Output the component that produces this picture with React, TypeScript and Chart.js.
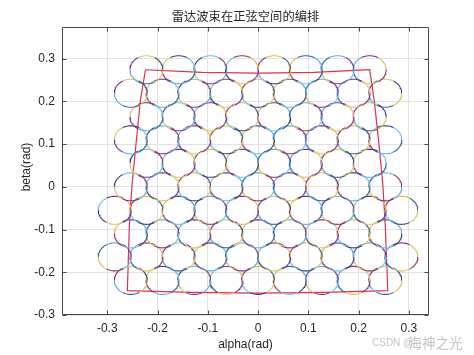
import React, { useEffect, useRef } from "react";
import { Chart, registerables } from "chart.js";

Chart.register(...registerables);

// ---- data ----
const titleText = "雷达波束在正弦空间的编排";
const xTitle = "alpha(rad)";
const yTitle = "beta(rad)";
const watermarkLatin = "CSDN @";
const watermarkCJK = "海神之光";

const xTicks = [-0.3, -0.2, -0.1, 0, 0.1, 0.2, 0.3];
const xTickLabels = ["-0.3", "-0.2", "-0.1", "0", "0.1", "0.2", "0.3"];
const yTicks = [-0.3, -0.2, -0.1, 0, 0.1, 0.2, 0.3];
const yTickLabels = ["-0.3", "-0.2", "-0.1", "0", "0.1", "0.2", "0.3"];
const xRange = [-0.39, 0.34];
const yRange = [-0.3, 0.374];

// beam centres (sine space), row by row
const rowY = [0.274, 0.219, 0.164, 0.11, 0.055, 0.0, -0.055, -0.11, -0.164, -0.219];
const xHalf8 = [-0.222, -0.158, -0.095, -0.032, 0.032, 0.095, 0.158, 0.222];
const xInt9 = [-0.253, -0.19, -0.127, -0.063, 0.0, 0.063, 0.127, 0.19, 0.253];
const xHalf10 = [-0.285, -0.222, -0.158, -0.095, -0.032, 0.032, 0.095, 0.158, 0.222, 0.285];
const rowCenters = [xHalf8, xInt9, xHalf8, xInt9, xHalf8, xInt9, xHalf10, xInt9, xHalf10, xInt9];
const beamRadius = 0.0328;

// scan-limit boundary (red)
const boundaryX = [-0.224, -0.112, 0.0, 0.111, 0.222, 0.231, 0.241, 0.248, 0.253, 0.258, 0.129, 0.0, -0.13, -0.26, -0.256, -0.251, -0.244, -0.234, -0.224];
const boundaryY = [0.274, 0.268, 0.266, 0.268, 0.274, 0.203, 0.094, 0.008, -0.089, -0.243, -0.247, -0.249, -0.247, -0.243, -0.089, 0.0, 0.086, 0.203, 0.274];

const palette = ["#3b3f80", "#E2BE4E", "#7E2F8E", "#6CC2E6", "#2f5f9e", "#D9C66A", "#8a3a62", "#5aaed6"];
const redLine = "#e0304e";

const SEG = 72;
const ARCS = 6;

function circlePoints(cx: number, cy: number) {
  const pts: { x: number; y: number }[] = [];
  for (let i = 0; i <= SEG; i++) {
    const t = (i / SEG) * Math.PI * 2;
    pts.push({ x: cx + beamRadius * Math.cos(t), y: cy + beamRadius * Math.sin(t) });
  }
  return pts;
}

const decor = {
  id: "decor",
  afterDraw(chart: any) {
    const { ctx, chartArea: a, scales } = chart;
    ctx.save();
    ctx.strokeStyle = "#4a4a4a";
    ctx.lineWidth = 1;
    const L = Math.round(a.left) + 0.5;
    const R = Math.round(a.right) - 0.5;
    const T = Math.round(a.top) + 0.5;
    const B = Math.round(a.bottom) - 0.5;
    ctx.beginPath();
    ctx.rect(L, T, R - L, B - T);
    ctx.stroke();
    const tl = 4;
    ctx.beginPath();
    xTicks.forEach((v) => {
      const px = Math.round(scales.x.getPixelForValue(v)) + 0.5;
      ctx.moveTo(px, B);
      ctx.lineTo(px, B - tl);
      ctx.moveTo(px, T);
      ctx.lineTo(px, T + tl);
    });
    yTicks.forEach((v) => {
      const py = Math.round(scales.y.getPixelForValue(v)) + 0.5;
      ctx.moveTo(L, py);
      ctx.lineTo(L + tl, py);
      ctx.moveTo(R, py);
      ctx.lineTo(R - tl, py);
    });
    ctx.stroke();

    ctx.fillStyle = "#262626";
    ctx.textAlign = "center";
    ctx.textBaseline = "middle";
    ctx.font = '12.3px "Noto Sans CJK SC"';
    ctx.fillText(titleText, (a.left + a.right) / 2, 16.5);

    ctx.font = '12px "Liberation Sans", Arial, sans-serif';
    ctx.fillText(xTitle, (a.left + a.right) / 2, 344.5);
    ctx.save();
    ctx.translate(27, 167);
    ctx.rotate(-Math.PI / 2);
    ctx.fillText(yTitle, 0, 0);
    ctx.restore();

    ctx.fillStyle = "#c4c4c4";
    ctx.textAlign = "left";
    ctx.font = '10px "Liberation Sans", Arial, sans-serif';
    ctx.fillText(watermarkLatin, 372, 343);
    ctx.font = '13.5px "Noto Sans CJK SC"';
    ctx.fillText(watermarkCJK, 408.5, 343);
    ctx.restore();
  },
};

export default function App() {
  const ref = useRef<HTMLCanvasElement | null>(null);

  useEffect(() => {
    document.body.style.margin = "0";
    document.body.style.background = "#ffffff";
    const canvas = ref.current;
    if (!canvas) return;

    const datasets: any[] = [];
    let idx = 0;
    rowY.forEach((cy, r) => {
      rowCenters[r].forEach((cx) => {
        const ci = idx++;
        datasets.push({
          data: circlePoints(cx, cy),
          showLine: true,
          pointRadius: 0,
          borderWidth: 1.1,
          borderColor: palette[ci % palette.length],
          segment: {
            borderColor: (c: any) => {
              const arc = Math.floor(c.p0DataIndex / (SEG / ARCS));
              return palette[(ci * 3 + arc * 5) % palette.length];
            },
          },
        });
      });
    });
    datasets.push({
      data: boundaryX.map((x, i) => ({ x, y: boundaryY[i] })),
      showLine: true,
      pointRadius: 0,
      borderWidth: 1.2,
      borderColor: redLine,
    });

    const chart = new Chart(canvas, {
      type: "scatter",
      data: { datasets },
      options: {
        animation: false,
        responsive: false,
        events: [],
        layout: { padding: { left: 0, right: 45, top: 27, bottom: 0 } },
        plugins: { legend: { display: false }, tooltip: { enabled: false }, title: { display: false } },
        scales: {
          x: {
            type: "linear",
            min: xRange[0],
            max: xRange[1],
            afterBuildTicks: (s: any) => {
              s.ticks = xTicks.map((v) => ({ value: v }));
            },
            afterFit: (s: any) => {
              s.height = 40;
            },
            ticks: {
              autoSkip: false,
              maxRotation: 0,
              padding: 6,
              color: "#262626",
              font: { family: '"Liberation Sans", Arial, sans-serif', size: 12 },
              callback: (_v: any, i: number) => xTickLabels[i],
            },
            grid: { color: "#e2e2e2", drawTicks: false, lineWidth: 1 },
            border: { display: false },
          },
          y: {
            type: "linear",
            min: yRange[0],
            max: yRange[1],
            afterBuildTicks: (s: any) => {
              s.ticks = yTicks.map((v) => ({ value: v }));
            },
            afterFit: (s: any) => {
              s.width = 62;
            },
            ticks: {
              autoSkip: false,
              padding: 7,
              color: "#262626",
              font: { family: '"Liberation Sans", Arial, sans-serif', size: 12 },
              callback: (_v: any, i: number) => yTickLabels[i],
            },
            grid: { color: "#e2e2e2", drawTicks: false, lineWidth: 1 },
            border: { display: false },
          },
        },
      },
      plugins: [decor],
    });
    return () => chart.destroy();
  }, []);

  return (
    <div style={{ width: 474, height: 355, background: "#fff" }}>
      <canvas ref={ref} width={474} height={355} style={{ display: "block" }} />
    </div>
  );
}
